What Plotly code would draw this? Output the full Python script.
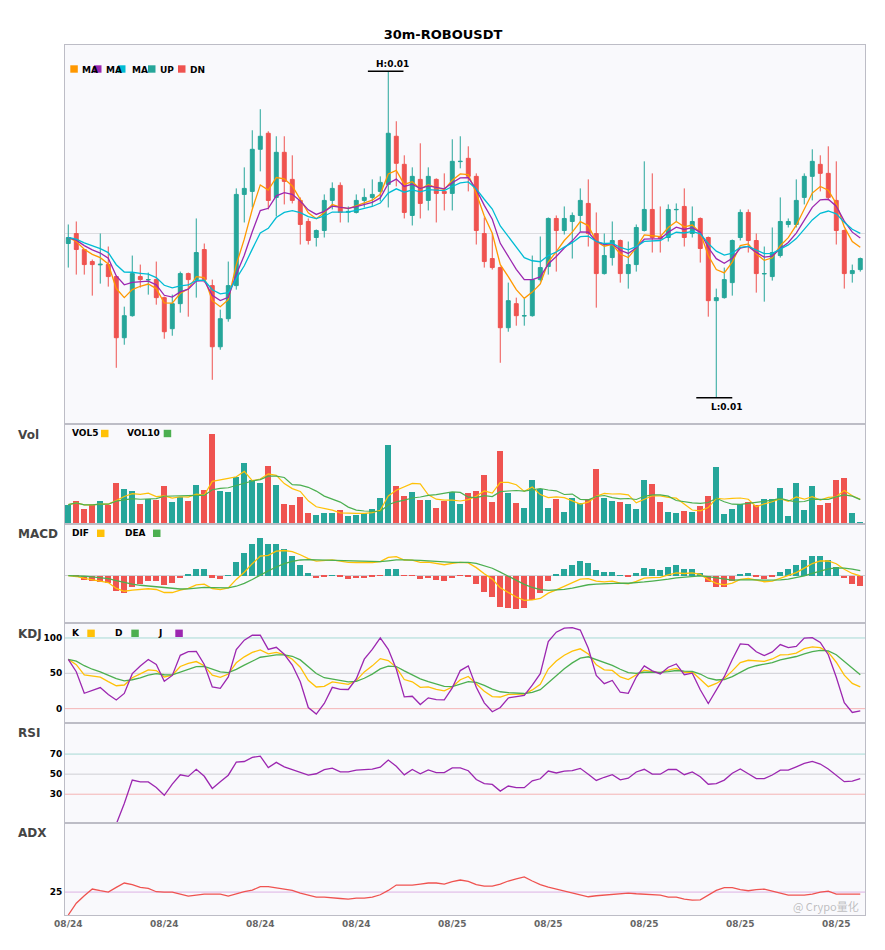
import numpy as np
import pandas as pd
import plotly.graph_objects as go
from plotly.subplots import make_subplots

# 30m candles
open_ = [0.00990, 0.01000, 0.00984, 0.00972, 0.009687, 0.00969, 0.00957, 0.00896, 0.00918, 0.00957,
         0.009537, 0.00954, 0.00936, 0.00905, 0.00930, 0.00960, 0.00954, 0.00984, 0.00948, 0.00887,
         0.00915, 0.00948, 0.01039, 0.01042, 0.01084, 0.01100, 0.01036, 0.01081, 0.01054, 0.01033,
         0.01012, 0.00996, 0.01003, 0.01033, 0.01048, 0.010213, 0.01021, 0.01033, 0.01036, 0.01042,
         0.01049, 0.01097, 0.01069, 0.01018, 0.01054, 0.01033, 0.01054, 0.01042, 0.01040, 0.010717,
         0.01075, 0.01057, 0.01000, 0.00975, 0.00966, 0.00906, 0.00930, 0.009177, 0.00918, 0.00954,
         0.00967, 0.01015, 0.01003, 0.01012, 0.01018, 0.01030, 0.01000, 0.00960, 0.00976, 0.00993,
         0.00960, 0.00969, 0.01003, 0.01024, 0.00997, 0.00996, 0.010237, 0.01027, 0.01000, 0.01015,
         0.00996, 0.00933, 0.00936, 0.00951, 0.00996, 0.01021, 0.00993, 0.009597, 0.00957, 0.00978,
         0.01009, 0.01009, 0.01036, 0.01057, 0.01069, 0.01060, 0.01033, 0.01003, 0.00960, 0.00964]
high = [0.01009, 0.01012, 0.00984, 0.00974, 0.01000, 0.00987, 0.00958, 0.00927, 0.00978, 0.00969,
        0.00961, 0.00972, 0.00937, 0.00939, 0.00962, 0.00961, 0.01015, 0.00990, 0.00954, 0.00924,
        0.00972, 0.01045, 0.01066, 0.01103, 0.01124, 0.01102, 0.01097, 0.01097, 0.01078, 0.01036,
        0.01015, 0.01004, 0.01039, 0.01051, 0.01051, 0.01027, 0.01039, 0.01045, 0.01054, 0.01057,
        0.01162, 0.01112, 0.01078, 0.01066, 0.01090, 0.01066, 0.01055, 0.01060, 0.01094, 0.01097,
        0.01087, 0.01060, 0.01016, 0.01000, 0.00967, 0.00951, 0.00936, 0.00935, 0.00978, 0.00997,
        0.01016, 0.01018, 0.01027, 0.01021, 0.01045, 0.01054, 0.01021, 0.01000, 0.01012, 0.00994,
        0.00992, 0.01009, 0.01072, 0.01060, 0.01027, 0.01029, 0.01030, 0.01045, 0.01027, 0.01016,
        0.00997, 0.00945, 0.00966, 0.00994, 0.01024, 0.01024, 0.01000, 0.00987, 0.01006, 0.01036,
        0.01015, 0.01054, 0.01060, 0.01084, 0.01078, 0.01087, 0.01072, 0.01004, 0.00969, 0.00976]
low = [0.00966, 0.00959, 0.00959, 0.00938, 0.00950, 0.00947, 0.00866, 0.00889, 0.00917, 0.00946,
       0.00939, 0.00929, 0.00895, 0.00898, 0.00921, 0.00917, 0.00936, 0.00951, 0.00854, 0.00884,
       0.00912, 0.00944, 0.01011, 0.01026, 0.01062, 0.01024, 0.01017, 0.01029, 0.01030, 0.00989,
       0.00989, 0.00987, 0.00996, 0.01024, 0.01011, 0.01011, 0.01020, 0.01026, 0.01027, 0.01032,
       0.01026, 0.01047, 0.01015, 0.01008, 0.01015, 0.01023, 0.01011, 0.01023, 0.01023, 0.01065,
       0.01042, 0.00989, 0.00966, 0.00964, 0.00871, 0.00902, 0.00908, 0.00908, 0.00917, 0.00952,
       0.00959, 0.00962, 0.00999, 0.00975, 0.01002, 0.00987, 0.00926, 0.00959, 0.00968, 0.00951,
       0.00945, 0.00962, 0.01002, 0.00981, 0.00981, 0.00992, 0.01012, 0.00987, 0.00996, 0.00971,
       0.00917, 0.00836, 0.00935, 0.00938, 0.00993, 0.00981, 0.00941, 0.00932, 0.00953, 0.00976,
       0.01006, 0.01006, 0.01029, 0.01033, 0.01042, 0.01033, 0.00989, 0.00945, 0.00951, 0.00962]
close = [0.00996, 0.00984, 0.00969, 0.00969, 0.009693, 0.00957, 0.00896, 0.00918, 0.00960, 0.00954,
         0.00954, 0.00936, 0.00902, 0.00930, 0.00960, 0.00954, 0.00981, 0.00954, 0.00887, 0.00915,
         0.00948, 0.01039, 0.01045, 0.01084, 0.01097, 0.01033, 0.01081, 0.01052, 0.01033, 0.01009,
         0.00993, 0.01003, 0.01033, 0.01045, 0.01021, 0.01022, 0.01033, 0.01036, 0.01039, 0.01051,
         0.01100, 0.01070, 0.01021, 0.01057, 0.01030, 0.01057, 0.01040, 0.01040, 0.01072, 0.01072,
         0.01057, 0.01003, 0.00972, 0.00966, 0.00906, 0.00933, 0.00918, 0.00918, 0.00954, 0.00966,
         0.01015, 0.01003, 0.01015, 0.01018, 0.01033, 0.01000, 0.00960, 0.00978, 0.00993, 0.00960,
         0.00969, 0.01006, 0.01024, 0.00996, 0.00995, 0.01024, 0.01024, 0.00996, 0.01012, 0.00985,
         0.00933, 0.00936, 0.00954, 0.00993, 0.01021, 0.00993, 0.00960, 0.00960, 0.00981, 0.01012,
         0.01012, 0.01033, 0.01057, 0.01072, 0.01060, 0.01036, 0.01003, 0.00960, 0.00963, 0.00975]
volume = [58000, 69000, 45000, 57000, 69000, 58000, 123000, 105000, 99000, 60000,
          75000, 73000, 114000, 66000, 81000, 69000, 117000, 102000, 270000, 99000,
          96000, 141000, 183000, 132000, 123000, 174000, 117000, 60000, 57000, 81000,
          33000, 27000, 33000, 33000, 42000, 24000, 27000, 33000, 45000, 78000,
          237000, 114000, 84000, 96000, 72000, 72000, 48000, 69000, 96000, 60000,
          93000, 99000, 147000, 66000, 219000, 93000, 63000, 48000, 132000, 105000,
          48000, 75000, 36000, 78000, 63000, 75000, 165000, 78000, 69000, 66000,
          60000, 45000, 132000, 120000, 66000, 36000, 33000, 39000, 36000, 54000,
          84000, 171000, 30000, 45000, 60000, 66000, 57000, 75000, 75000, 108000,
          24000, 123000, 42000, 114000, 57000, 63000, 132000, 138000, 33000, 6000]
# ADX as drawn
adx = [0, 12.9, 21, 28.3, 26.5, 25, 30.1, 34.9, 33.1, 30.1,
       29, 25.4, 25, 25, 22.8, 20.6, 21.7, 22.8, 22.8, 22.8,
       20.6, 23.2, 25.4, 27.2, 30.9, 30.9, 29.8, 28.3, 26.8, 23.9,
       21.7, 19.5, 19.5, 19.1, 18, 17.3, 18.4, 18.4, 19.5, 22.1,
       26.8, 32.7, 32.7, 32.7, 33.8, 34.9, 34.9, 33.8, 36.4, 38.2,
       36.8, 33.1, 31.6, 31.6, 33.8, 37.1, 39.3, 41.5, 37.1, 33.1,
       30.5, 28.3, 26.5, 24.6, 22.1, 19.9, 21, 21.7, 21.7, 22.8,
       23.9, 23.2, 22.8, 21.7, 21.7, 19.5, 19.5, 17.3, 16.2, 16.5,
       21.7, 26.8, 29.8, 29.8, 27.6, 26.5, 27.6, 28.3, 26.1, 23.9,
       21.7, 21.7, 21.7, 22.8, 25, 26.1, 22.8, 22.8, 22.8, 22.8]

tick_pos = [0, 12, 24, 36, 48, 60, 72, 84, 96]
tick_text = ["08/24", "08/24", "08/24", "08/24", "08/25", "08/25", "08/25", "08/25", "08/25"]

UP = "#26a69a"
DN = "#ef5350"
ORANGE = "#ff9800"
PURPLE = "#9c27b0"
CYAN = "#00bcd4"
YELLOW = "#ffc107"
GREEN = "#4caf50"
BORDER = "#bdbdc6"
FONT = "DejaVu Sans"

df = pd.DataFrame({"open": open_, "high": high, "low": low, "close": close, "volume": volume})
x = np.arange(len(df))
c = df["close"]

# indicators
ema5 = c.ewm(span=5, adjust=False).mean()
ema8 = c.ewm(span=8, adjust=False).mean()
ema13 = c.ewm(span=13, adjust=False).mean()

vol5 = df["volume"].rolling(5, min_periods=1).mean()
vol10 = df["volume"].rolling(10, min_periods=1).mean()

dif = c.ewm(span=12, adjust=False).mean() - c.ewm(span=26, adjust=False).mean()
dea = dif.ewm(span=9, adjust=False).mean()
hist = 2 * (dif - dea)

low9 = df["low"].rolling(9, min_periods=1).min()
high9 = df["high"].rolling(9, min_periods=1).max()
rsv = (c - low9) / (high9 - low9) * 100
k = rsv.ewm(com=2, adjust=False).mean()
d = k.ewm(com=2, adjust=False).mean()
j = 3 * k - 2 * d

delta = c.diff()
gain = delta.clip(lower=0).ewm(com=13).mean()
loss = (-delta.clip(upper=0)).ewm(com=13).mean()
rsi = 100 - 100 / (1 + gain / loss)

is_up = df["close"] >= df["open"]
bar_colors = [UP if u else DN for u in is_up]

fig = make_subplots(rows=6, cols=1, shared_xaxes=True, vertical_spacing=0,
                    row_heights=[379, 100, 99, 100, 100, 92])

fig.add_trace(go.Candlestick(
    x=x, open=df["open"], high=df["high"], low=df["low"], close=df["close"],
    increasing=dict(line=dict(color=UP, width=1), fillcolor=UP),
    decreasing=dict(line=dict(color=DN, width=1), fillcolor=DN),
    showlegend=False, hoverinfo="skip"), row=1, col=1)
for s, col in [(ema5, ORANGE), (ema8, PURPLE), (ema13, CYAN)]:
    fig.add_trace(go.Scatter(x=x, y=s, mode="lines", line=dict(color=col, width=1.3),
                             showlegend=False), row=1, col=1)

fig.add_trace(go.Bar(x=x, y=df["volume"], marker_color=bar_colors, marker_line_width=0,
                     width=0.75, showlegend=False), row=2, col=1)
for s, col in [(vol5, YELLOW), (vol10, GREEN)]:
    fig.add_trace(go.Scatter(x=x, y=s, mode="lines", line=dict(color=col, width=1.2),
                             showlegend=False), row=2, col=1)

fig.add_trace(go.Bar(x=x, y=hist, marker_color=[UP if v >= 0 else DN for v in hist],
                     marker_line_width=0, width=0.75, showlegend=False), row=3, col=1)
for s, col in [(dif, YELLOW), (dea, GREEN)]:
    fig.add_trace(go.Scatter(x=x, y=s, mode="lines", line=dict(color=col, width=1.3),
                             showlegend=False), row=3, col=1)

for s, col in [(k, YELLOW), (d, GREEN), (j, PURPLE)]:
    fig.add_trace(go.Scatter(x=x, y=s, mode="lines", line=dict(color=col, width=1.3),
                             showlegend=False), row=4, col=1)

fig.add_trace(go.Scatter(x=x, y=rsi, mode="lines", line=dict(color=PURPLE, width=1.3),
                         showlegend=False), row=5, col=1)
fig.add_trace(go.Scatter(x=x, y=adx, mode="lines", line=dict(color=DN, width=1.3),
                         showlegend=False), row=6, col=1)

# reference lines
fig.add_hline(y=100, line=dict(color="#a6d9d4", width=1), layer="below", row=4, col=1)
fig.add_hline(y=50, line=dict(color="#cfcfd4", width=1), layer="below", row=4, col=1)
fig.add_hline(y=0, line=dict(color="#f5b5b5", width=1), layer="below", row=4, col=1)
fig.add_hline(y=70, line=dict(color="#a6d9d4", width=1), layer="below", row=5, col=1)
fig.add_hline(y=50, line=dict(color="#cfcfd4", width=1), layer="below", row=5, col=1)
fig.add_hline(y=30, line=dict(color="#f5b5b5", width=1), layer="below", row=5, col=1)
fig.add_hline(y=25, line=dict(color="#dcb2e4", width=1), layer="below", row=6, col=1)

# axes
fig.update_xaxes(range=[-0.41, 99.59], showgrid=False, zeroline=False, showline=True,
                 mirror=True, linecolor=BORDER, linewidth=1, ticks="",
                 rangeslider_visible=False)
fig.update_xaxes(tickvals=tick_pos, ticktext=tick_text, showticklabels=True,
                 tickfont=dict(family=FONT, size=9, color="#666666", weight="bold"),
                 row=6, col=1)
fig.update_yaxes(showgrid=False, zeroline=False, showline=True, mirror=True,
                 linecolor=BORDER, linewidth=1, ticks="",
                 tickfont=dict(family=FONT, size=9, color="black", weight="bold"))

span = max(high) - min(low)
fig.update_yaxes(range=[min(low) - 0.08 * span, max(high) + 0.08 * span],
                 tickvals=[0.01], showticklabels=False, showgrid=True,
                 gridcolor="#dcdce0", row=1, col=1)
fig.update_yaxes(range=[0, max(volume) * 1.111], showticklabels=False, row=2, col=1)
lo = min(dif.min(), dea.min(), hist.min())
hi = max(dif.max(), dea.max(), hist.max())
pad = 0.2 * (hi - lo)
fig.update_yaxes(range=[lo - pad, hi + pad], showticklabels=False, zeroline=True,
                 zerolinecolor="#cfcfd4", zerolinewidth=1, row=3, col=1)
fig.update_yaxes(range=[-20.3, 121.2], tickvals=[0, 50, 100], row=4, col=1)
fig.update_yaxes(range=[1.3, 101], tickvals=[30, 50, 70], row=5, col=1)
fig.update_yaxes(range=[0, 100.4], tickvals=[25], row=6, col=1)


# page pixel -> paper fraction (plot area spans x 65..865, y 45..915 on the page)
def px(v):
    return (v - 65) / 800


def py(v):
    return (915 - v) / 870


def label(text, xp, yp, size=9, color="black"):
    fig.add_annotation(text=text, x=px(xp), y=py(yp), xref="paper", yref="paper",
                       xanchor="left", yanchor="middle", showarrow=False,
                       font=dict(family=FONT, size=size, color=color, weight="bold"))


def square(color, xp, yp):
    fig.add_shape(type="rect", xref="paper", yref="paper", x0=px(xp), x1=px(xp + 7.5),
                  y0=py(yp + 3.7), y1=py(yp - 3.7), fillcolor=color, line_width=0)


# legends
for sx, col in [(70.3, ORANGE), (94, PURPLE), (118, CYAN), (148, UP), (178, DN)]:
    square(col, sx, 69)
for tx, t in [(80, "MA"), (104, "MA"), (130, "MA"), (157.5, "UP"), (188, "DN")]:
    label(t, tx, 69.5)

label("VOL5", 69.5, 433.5)
square(YELLOW, 101, 433.5)
label("VOL10", 124.5, 433.5)
square(GREEN, 163.7, 433.5)

label("DIF", 69.5, 533.3)
square(YELLOW, 97, 533.3)
label("DEA", 123, 533.3)
square(GREEN, 153, 533.3)

label("K", 69.5, 633.3)
square(YELLOW, 87.3, 633.3)
label("D", 113, 633.3)
square(GREEN, 131.3, 633.3)
label("J", 156, 633.3)
square(PURPLE, 175.3, 633.3)

for t, yp in [("Vol", 435), ("MACD", 534), ("KDJ", 634), ("RSI", 733), ("ADX", 833)]:
    label(t, 16, yp, size=12, color="#444444")

# high / low markers
imax = int(np.argmax(high))
imin = int(np.argmin(low))
fig.add_shape(type="line", xref="x", yref="y", x0=imax - 2.55, x1=imax + 1.9,
              y0=max(high), y1=max(high), line=dict(color="black", width=1.5))
fig.add_annotation(text=f"H:{max(high):.2f}", x=imax + 0.5, y=max(high), xref="x", yref="y",
                   yanchor="middle", yshift=7, showarrow=False,
                   font=dict(family=FONT, size=9, color="black", weight="bold"))
fig.add_shape(type="line", xref="x", yref="y", x0=imin - 2.5, x1=imin + 2.0,
              y0=min(low), y1=min(low), line=dict(color="black", width=1.5))
fig.add_annotation(text=f"L:{min(low):.2f}", x=imin + 1.4, y=min(low), xref="x", yref="y",
                   yanchor="middle", yshift=-9, showarrow=False,
                   font=dict(family=FONT, size=9, color="black", weight="bold"))

# watermark
fig.add_annotation(text="@ Crypo量化", x=px(861), y=py(906), xref="paper", yref="paper",
                   xanchor="right", yanchor="middle", showarrow=False,
                   font=dict(family="Noto Sans CJK SC", size=11, color="rgba(150,150,150,0.6)"))

fig.update_layout(
    width=869, height=934,
    margin=dict(l=57, r=12, t=37, b=27),
    title=dict(text="30m-ROBOUSDT", x=px(443), xref="paper", xanchor="center",
               y=1 - 26 / 934, yref="container", yanchor="middle",
               font=dict(family=FONT, size=13, color="black", weight="bold")),
    paper_bgcolor="white",
    plot_bgcolor="#f9f9fc",
    showlegend=False,
    bargap=0,
    font=dict(family=FONT),
)

fig.write_html("out.html")
